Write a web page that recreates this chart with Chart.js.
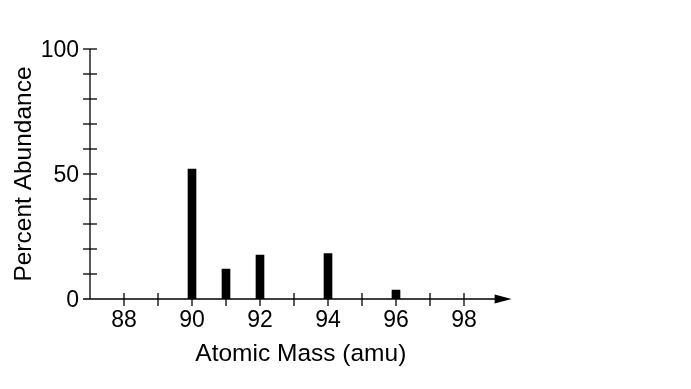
<!DOCTYPE html>
<html>
<head>
<meta charset="utf-8">
<script src="https://cdn.jsdelivr.net/npm/chart.js@4/dist/chart.umd.min.js"></script>
<style>
  html, body { margin: 0; padding: 0; background: #fff; }
  #wrap { width: 691px; height: 389px; }
</style>
</head>
<body>
<div id="wrap"><canvas id="c" width="691" height="389"></canvas></div>
<script>
// ---- data ----
const masses = [90, 91, 92, 94, 96];
const abundance = [52, 12, 17.6, 18.2, 3.6];
const xTickLabels = [88, 90, 92, 94, 96, 98];
const xMinorTicks = [88, 89, 90, 91, 92, 93, 94, 95, 96, 97, 98];
const yTickLabels = [0, 50, 100];
const yMinorTicks = [10, 20, 30, 40, 50, 60, 70, 80, 90, 100];
const xTitle = 'Atomic Mass (amu)';
const yTitle = 'Percent Abundance';

const FONT = "'Liberation Sans', Arial, Helvetica, sans-serif";

const axesPlugin = {
  id: 'axesPlugin',
  afterDraw(chart) {
    const ctx = chart.ctx;
    const xs = chart.scales.x, ys = chart.scales.y;
    const x0 = xs.getPixelForValue(xs.min);
    const y0 = ys.getPixelForValue(0);
    const yTop = ys.getPixelForValue(100);
    const xEnd = xs.getPixelForValue(xs.max);
    ctx.save();
    ctx.strokeStyle = '#000';
    ctx.fillStyle = '#000';
    ctx.lineWidth = 1.3;
    // y axis
    ctx.beginPath();
    ctx.moveTo(x0, y0);
    ctx.lineTo(x0, yTop);
    ctx.stroke();
    // x axis
    ctx.beginPath();
    ctx.moveTo(x0 - 7, y0);
    ctx.lineTo(xEnd - 14, y0);
    ctx.stroke();
    // arrow head
    ctx.beginPath();
    ctx.moveTo(xEnd, y0);
    ctx.lineTo(xEnd - 17, y0 - 4.5);
    ctx.lineTo(xEnd - 17, y0 + 4.5);
    ctx.closePath();
    ctx.fill();
    // y ticks
    yMinorTicks.forEach(v => {
      const py = ys.getPixelForValue(v);
      ctx.beginPath();
      ctx.moveTo(x0 - 7, py);
      ctx.lineTo(x0 + 7, py);
      ctx.stroke();
    });
    // x ticks
    xMinorTicks.forEach(v => {
      const px = xs.getPixelForValue(v);
      ctx.beginPath();
      ctx.moveTo(px, y0 - 6);
      ctx.lineTo(px, y0 + 7);
      ctx.stroke();
    });
    ctx.restore();
  }
};

new Chart(document.getElementById('c'), {
  type: 'bar',
  data: {
    datasets: [{
      data: masses.map((m, i) => ({ x: m, y: abundance[i] })),
      backgroundColor: '#000',
      borderWidth: 0,
      barThickness: 8
    }]
  },
  options: {
    responsive: false,
    animation: false,
    devicePixelRatio: 1,
    layout: { padding: { top: 49, right: 179.4, left: 0, bottom: 0 } },
    plugins: { legend: { display: false }, tooltip: { enabled: false } },
    scales: {
      x: {
        type: 'linear',
        min: 87,
        max: 99.4,
        offset: false,
        grid: { display: false, drawTicks: false },
        border: { display: false },
        ticks: {
          color: '#000',
          font: { family: FONT, size: 23 },
          padding: 8,
          maxRotation: 0,
          autoSkip: false
        },
        afterBuildTicks: s => { s.ticks = xTickLabels.map(v => ({ value: v })); },
        afterFit: s => { s.height = 90; },
        title: {
          display: true,
          text: xTitle,
          color: '#000',
          font: { family: FONT, size: 24.5 },
          padding: { top: 0, bottom: 20 }
        }
      },
      y: {
        min: 0,
        max: 100,
        grid: { display: false, drawTicks: false },
        border: { display: false },
        ticks: {
          color: '#000',
          font: { family: FONT, size: 23 },
          padding: 11,
          labelOffset: 2
        },
        afterBuildTicks: s => { s.ticks = yTickLabels.map(v => ({ value: v })); },
        afterFit: s => { s.width = 90; },
        title: {
          display: true,
          text: yTitle,
          color: '#000',
          font: { family: FONT, size: 24.5 },
          padding: { top: 10, bottom: 0 }
        }
      }
    }
  },
  plugins: [axesPlugin]
});
</script>
</body>
</html>
